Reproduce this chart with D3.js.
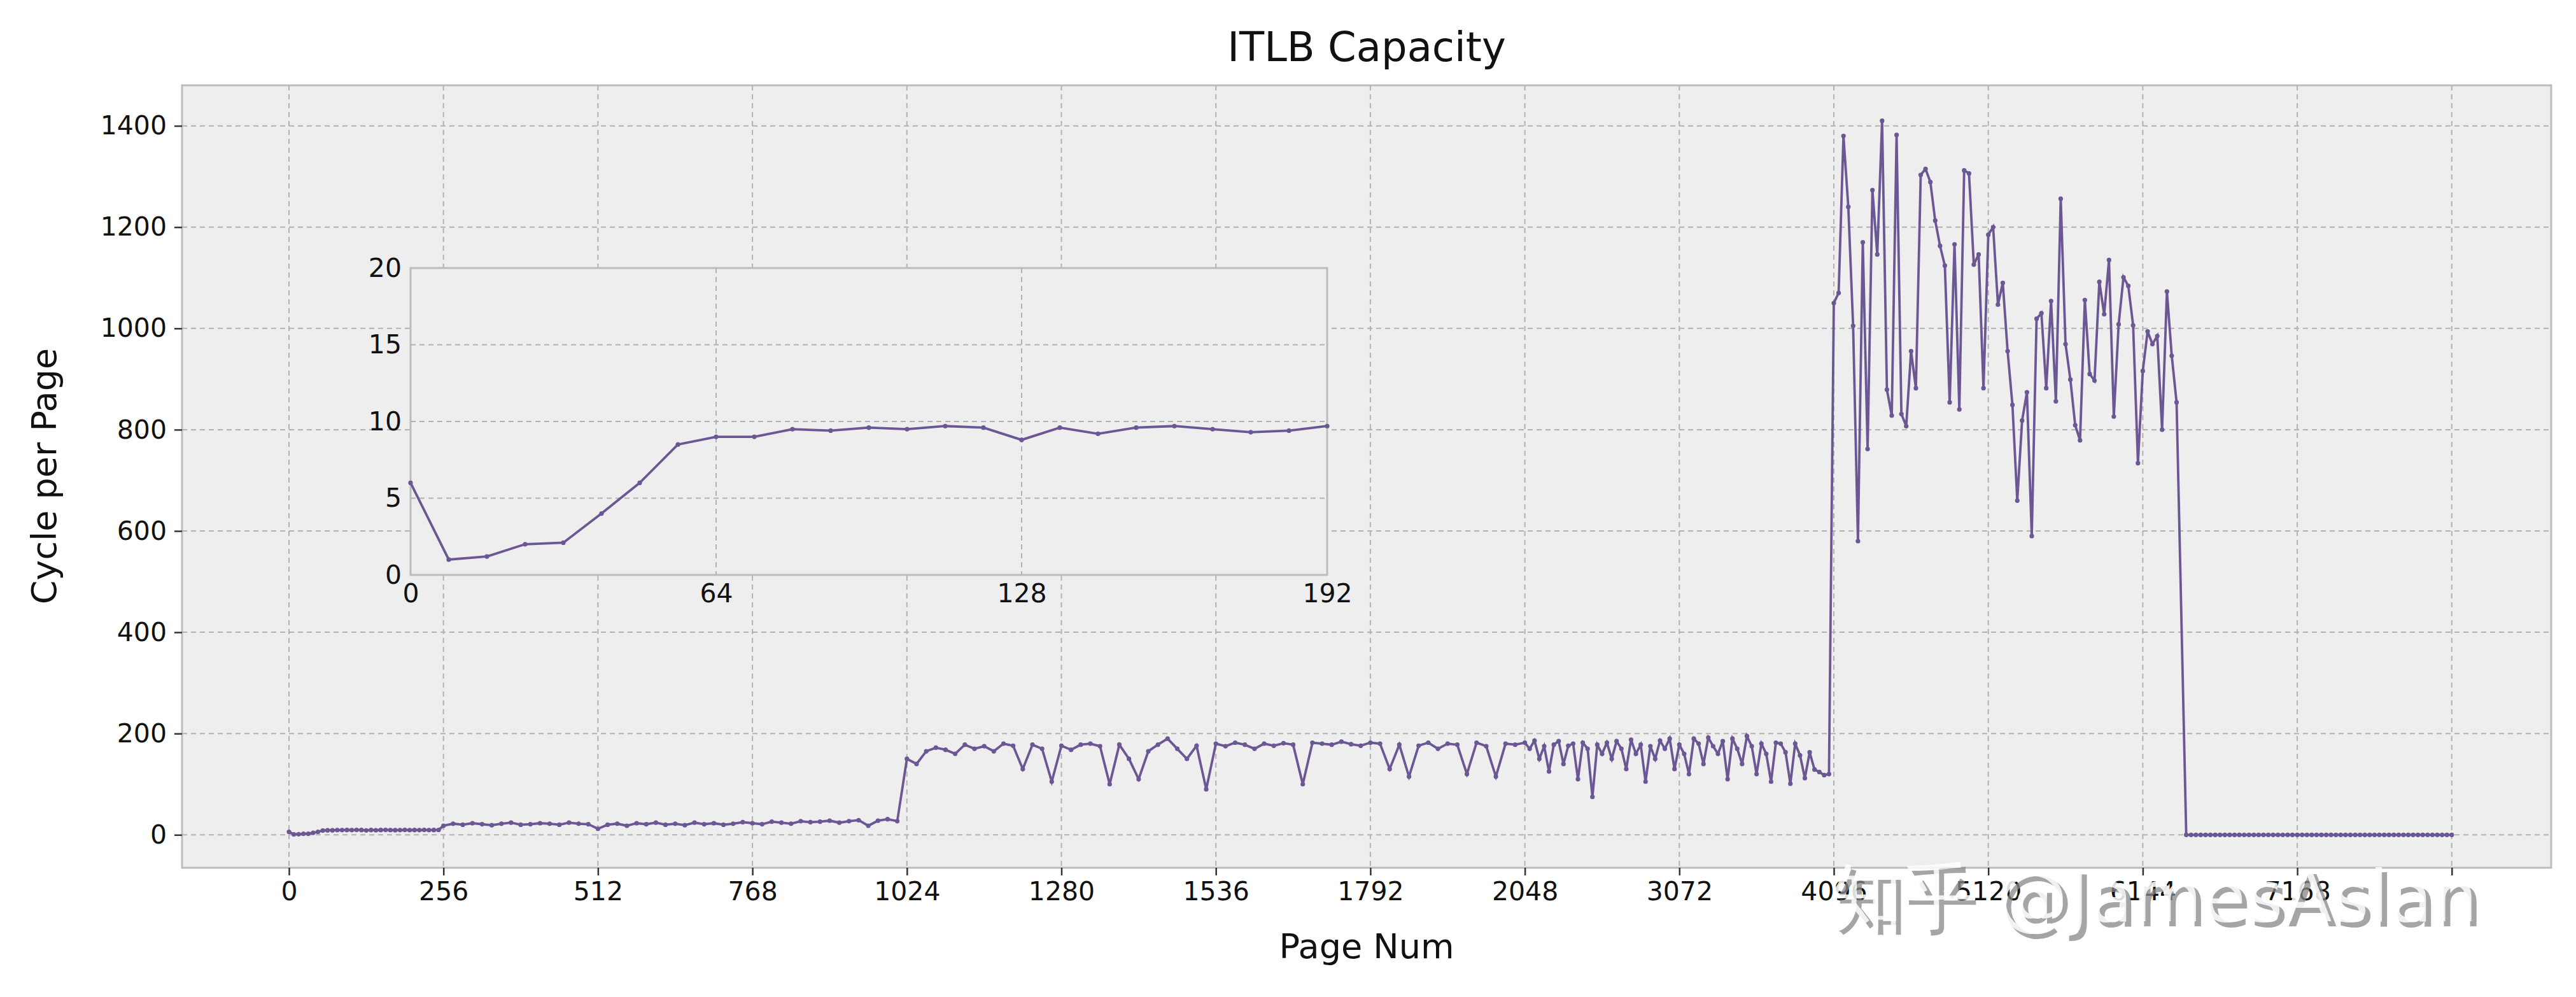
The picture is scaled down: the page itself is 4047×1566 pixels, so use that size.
<!DOCTYPE html>
<html><head><meta charset="utf-8">
<script src="https://cdn.jsdelivr.net/npm/d3@7"></script>
<style>body{margin:0;background:#fff}svg{display:block}text{font-family:"DejaVu Sans",sans-serif}</style>
</head><body><svg id="c" width="4047" height="1566"></svg>
<script>
const tickPages=[0,256,512,768,1024,1280,1536,1792,2048,3072,4096,5120,6144,7168,8192];
const tickLabels=["0","256","512","768","1024","1280","1536","1792","2048","3072","4096","5120","6144","7168",""];
const yTicks=[0,200,400,600,800,1000,1200,1400];
// pages 0..248 step 8
const segA=[6,1,1.2,2,2.1,4,6,8.5,9,9,9.5,9.4,9.6,9.5,9.7,9.6,8.8,9.6,9.2,9.6,9.7,9.5,9.3,9.4,9.7,9.5,9.6,9.4,9.7,9.5,9.6,9.8];
// pages 256..1008 step 16
const segB=[18,22,20,23,21,19,22,24,20,21,23,22,20,24,22,21,12,20,22,18,23,21,24,20,22,19,24,21,23,20,22,25,23,21,26,24,22,27,25,26,28,24,27,29,18,28,31,27];
// pages 1024..2032 step 16
const segC=[150,140,165,172,168,160,178,170,175,165,180,176,130,178,170,105,176,168,178,180,175,100,178,150,110,165,178,190,170,150,176,90,180,175,182,178,170,180,176,181,178,100,182,180,178,184,179,176,182,180,130,178,115,176,182,170,180,178,120,182,175,115,180,178];
// pages 2048..4064 step 32
const segD=[182,170,186,150,175,125,178,185,140,176,180,110,182,170,75,178,160,182,150,185,170,130,188,160,178,105,175,150,186,170,190,130,178,160,120,190,180,140,192,175,160,185,110,190,170,140,195,175,120,180,160,105,182,180,163,101,180,157,112,163,129,124,118,120];
// pages 4096..6400 step 32
const segE=[1050,1070,1380,1240,1005,580,1170,762,1273,1146,1410,879,828,1382,831,807,955,882,1303,1315,1289,1213,1163,1124,854,1166,840,1312,1306,1126,1146,882,1185,1200,1047,1090,955,849,660,818,874,590,1019,1030,882,1054,856,1256,969,899,809,779,1056,910,897,1092,1028,1135,826,1008,1101,1084,1006,734,916,994,969,985,800,1073,946,854];
// pages 6432..8192 step 32
const segF=[0,0,0,0,0,0,0,0,0,0,0,0,0,0,0,0,0,0,0,0,0,0,0,0,0,0,0,0,0,0,0,0,0,0,0,0,0,0,0,0,0,0,0,0,0,0,0,0,0,0,0,0,0,0,0,0];
const insetXTicks=[0,64,128,192], insetYTicks=[0,5,10,15,20];

const data=[];
segA.forEach((v,i)=>data.push([i*8,v]));
segB.forEach((v,i)=>data.push([256+i*16,v]));
segC.forEach((v,i)=>data.push([1024+i*16,v]));
segD.forEach((v,i)=>data.push([2048+i*32,v]));
segE.forEach((v,i)=>data.push([4096+i*32,v]));
segF.forEach((v,i)=>data.push([6432+i*32,v]));

const svg=d3.select("#c");
const L=286,R=4008,T=134,B=1363;
const tickPos=tickPages.map((d,i)=>454+i*242.7);
const x=d3.scaleLinear().domain(tickPages).range(tickPos);
const y=d3.scaleLinear().domain([-65,1480]).range([B,T]);
const col="#6b5793", grid="#b2b2b2";
svg.append("rect").attr("x",L).attr("y",T).attr("width",R-L).attr("height",B-T).attr("fill","#eeeeee").attr("stroke","#bcbcbc").attr("stroke-width",3);
const g=svg.append("g");
tickPages.forEach(p=>g.append("line").attr("x1",x(p)).attr("x2",x(p)).attr("y1",T).attr("y2",B).attr("stroke",grid).attr("stroke-width",2).attr("stroke-dasharray","8,6"));
yTicks.forEach(v=>g.append("line").attr("x1",L).attr("x2",R).attr("y1",y(v)).attr("y2",y(v)).attr("stroke",grid).attr("stroke-width",2).attr("stroke-dasharray","8,6"));
const xa=svg.append("g").attr("transform",`translate(0,${B})`).call(d3.axisBottom(x).tickValues(tickPages).tickFormat((d,i)=>tickLabels[i]).tickSize(12).tickPadding(10));
const ya=svg.append("g").attr("transform",`translate(${L},0)`).call(d3.axisLeft(y).tickValues(yTicks).tickFormat(d3.format("d")).tickSize(12).tickPadding(12));
[xa,ya].forEach(a=>{a.select(".domain").remove();a.selectAll("line").attr("stroke","#333").attr("stroke-width",2.5);a.selectAll("text").attr("font-size",41).attr("fill","#111").attr("font-family","DejaVu Sans");});
const line=d3.line().x(d=>x(d[0])).y(d=>y(d[1]));
svg.append("path").datum(data).attr("d",line).attr("fill","none").attr("stroke",col).attr("stroke-width",3.8);
svg.append("g").selectAll("circle").data(data).join("circle").attr("cx",d=>x(d[0])).attr("cy",d=>y(d[1])).attr("r",3.6).attr("fill",col);
svg.append("text").attr("x",(L+R)/2).attr("y",96).attr("text-anchor","middle").attr("font-size",64).attr("fill","#111").text("ITLB Capacity");
svg.append("text").attr("x",(L+R)/2).attr("y",1505).attr("text-anchor","middle").attr("font-size",54).attr("fill","#111").text("Page Num");
svg.append("text").attr("transform","translate(88,748) rotate(-90)").attr("text-anchor","middle").attr("font-size",54).attr("fill","#111").text("Cycle per Page");

// inset
const IL=645,IR=2085,IT=421,IB=903;
const ix=d3.scaleLinear().domain([0,192]).range([IL,IR]);
const iy=d3.scaleLinear().domain([0,20]).range([IB,IT]);
svg.append("rect").attr("x",IL).attr("y",IT).attr("width",IR-IL).attr("height",IB-IT).attr("fill","#eeeeee").attr("stroke","#bcbcbc").attr("stroke-width",3);
insetXTicks.slice(1,3).forEach(p=>svg.append("line").attr("x1",ix(p)).attr("x2",ix(p)).attr("y1",IT).attr("y2",IB).attr("stroke",grid).attr("stroke-width",2).attr("stroke-dasharray","8,6"));
insetYTicks.slice(1,4).forEach(v=>svg.append("line").attr("x1",IL).attr("x2",IR).attr("y1",iy(v)).attr("y2",iy(v)).attr("stroke",grid).attr("stroke-width",2).attr("stroke-dasharray","8,6"));
const ixa=svg.append("g").attr("transform",`translate(0,${IB})`).call(d3.axisBottom(ix).tickValues(insetXTicks).tickSize(0).tickPadding(14));
const iya=svg.append("g").attr("transform",`translate(${IL},0)`).call(d3.axisLeft(iy).tickValues(insetYTicks).tickSize(0).tickPadding(14));
[ixa,iya].forEach(a=>{a.select(".domain").remove();a.selectAll("text").attr("font-size",41).attr("fill","#111").attr("font-family","DejaVu Sans");});
const idata=data.filter(d=>d[0]<=192);
svg.append("path").datum(idata).attr("d",d3.line().x(d=>ix(d[0])).y(d=>iy(d[1]))).attr("fill","none").attr("stroke",col).attr("stroke-width",3.8);
svg.append("g").selectAll("circle").data(idata).join("circle").attr("cx",d=>ix(d[0])).attr("cy",d=>iy(d[1])).attr("r",3.6).attr("fill",col);

// watermark
const wm="知乎 @JamesAslan";
svg.append("text").attr("x",2885).attr("y",1455).attr("font-size",112).attr("fill","#888").attr("opacity",0.75).attr("font-family","Noto Sans CJK SC").text(wm);
svg.append("text").attr("x",2877).attr("y",1447).attr("font-size",112).attr("fill","#fff").attr("opacity",0.85).attr("font-family","Noto Sans CJK SC").text(wm);
</script></body></html>
